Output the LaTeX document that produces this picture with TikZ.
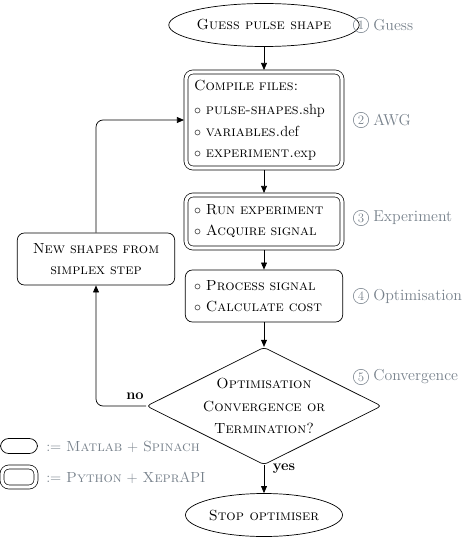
\documentclass[tikz,border=0pt]{standalone}
\usepackage{fontspec}
\usetikzlibrary{arrows.meta, shapes.geometric, positioning}
\definecolor{labelgrey}{RGB}{120,130,140}

\begin{document}
\begin{tikzpicture}[x=0.03cm, y=-0.03cm, ->, >={Triangle[length=6pt,width=5pt]}, line width=0.6pt, font=\fontsize{12.5}{18}\selectfont]
    \tikzstyle{terminal}=[draw, ellipse, minimum width=4.71cm, minimum height=1.29cm, inner sep=0pt, font=\fontsize{12.5}{18}\selectfont\scshape]
    \tikzstyle{matlab box}=[draw, rectangle, rounded corners=6pt, minimum width=4.72cm, inner sep=0pt, text width=4.2cm, align=left, font=\fontsize{12.5}{18}\selectfont\scshape]
    \tikzstyle{python box}=[matlab box, double, double distance=2.8pt, outer sep=1.7pt, minimum width=4.68cm]
    \tikzstyle{decision}=[draw, diamond, aspect=2, rounded corners=3pt, minimum width=6.72cm, minimum height=3.36cm, inner sep=0pt, align=center, font=\fontsize{12.5}{19.5}\selectfont\scshape]
    \tikzstyle{step num}=[draw=labelgrey, circle, line width=0.5pt, minimum size=0.46cm, inner sep=0pt, text=labelgrey, font=\fontsize{11}{12}\selectfont]
    \tikzstyle{step label}=[right=0.12cm of #1, inner sep=0pt, text=labelgrey, font=\fontsize{13.5}{16}\selectfont]
    \tikzstyle{legend}=[anchor=west, text=labelgrey, font=\fontsize{12.5}{15}\selectfont]
    \tikzstyle{answer}=[font=\fontsize{12.5}{15}\selectfont\bfseries]

    \useasboundingbox (0,0) rectangle (474,541);

    % main chain
    \node[terminal] (guess) at (264,25) {Guess pulse shape};
    \node[python box, minimum height=2.88cm] (compile) at (264,120)
        {Compile files:\\[3pt] $\circ$ pulse-shapes.{\upshape shp}\\ $\circ$ variables.{\upshape def}\\ $\circ$ experiment.{\upshape exp}};
    \node[python box, minimum height=1.59cm] (run) at (264,221.5)
        {$\circ$ Run experiment\\ $\circ$ Acquire signal};
    \node[matlab box, minimum height=1.56cm] (process) at (264,296)
        {$\circ$ Process signal\\ $\circ$ Calculate cost};
    \node[decision] (conv) at (264,406) {Optimisation\\ Convergence or\\ Termination?};
    \node[terminal] (stop) at (264,515) {Stop optimiser};

    % feedback
    \node[matlab box, minimum height=1.56cm, text width=4.5cm, align=center] (simplex) at (96,259)
        {New shapes from\\ simplex step};

    % step labels
    \node[step num] (n1) at (361,25) {1};
    \node[step label=n1] (l1) {Guess};
    \node[step num] (n2) at (361,120) {2};
    \node[step label=n2] (l2) {AWG};
    \node[step num] (n3) at (361,218) {3};
    \node[step label=n3] (l3) {Experiment};
    \node[step num] (n4) at (361,296) {4};
    \node[step label=n4] (l4) {Optimisation};
    \node[step num] (n5) at (361,377) {5};
    \node[step label=n5] (l5) {Convergence};

    % legend
    \node[draw, rounded corners=7pt, minimum width=1.11cm, minimum height=0.45cm, inner sep=0pt] (key1) at (19,446) {};
    \node[draw, double, double distance=2.8pt, rounded corners=6pt, minimum width=1.02cm, minimum height=0.6cm, inner sep=0pt] (key2) at (19,477) {};
    \node[legend] (t1) at (42,447) {:= {\scshape Matlab} + {\scshape Spinach}};
    \node[legend] (t2) at (42,478) {:= {\scshape Python} + {\scshape Xepr}API};

    \path (guess) edge (compile);
    \path (compile) edge (run);
    \path (run) edge (process);
    \path (process) edge (conv);
    \path (conv) edge (stop);
    \draw[rounded corners=6pt] (conv.west) -| (simplex.south);
    \draw[rounded corners=6pt] (simplex.north) |- (compile.west);

    \node[answer] (no) at (135,396) {no};
    \node[answer] (yes) at (284,469) {yes};
\end{tikzpicture}
\end{document}
